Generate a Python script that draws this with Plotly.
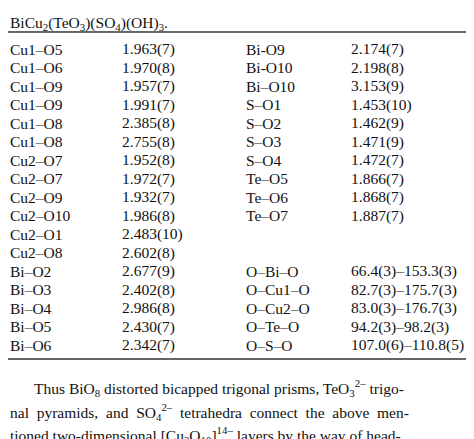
import plotly.graph_objects as go

title = "BiCu<sub>2</sub>(TeO<sub>3</sub>)(SO<sub>4</sub>)(OH)<sub>3</sub>."
bond_left = ["Cu1–O5", "Cu1–O6", "Cu1–O9", "Cu1–O9", "Cu1–O8", "Cu1–O8", "Cu2–O7", "Cu2–O7",
             "Cu2–O9", "Cu2–O10", "Cu2–O1", "Cu2–O8", "Bi–O2", "Bi–O3", "Bi–O4", "Bi–O5", "Bi–O6"]
dist_left = ["1.963(7)", "1.970(8)", "1.957(7)", "1.991(7)", "2.385(8)", "2.755(8)", "1.952(8)", "1.972(7)",
             "1.932(7)", "1.986(8)", "2.483(10)", "2.602(8)", "2.677(9)", "2.402(8)", "2.986(8)", "2.430(7)", "2.342(7)"]
bond_right = ["Bi-O9", "Bi-O10", "Bi–O10", "S–O1", "S–O2", "S–O3", "S–O4", "Te–O5", "Te–O6", "Te–O7",
              "", "", "O–Bi–O", "O–Cu1–O", "O–Cu2–O", "O–Te–O", "O–S–O"]
dist_right = ["2.174(7)", "2.198(8)", "3.153(9)", "1.453(10)", "1.462(9)", "1.471(9)", "1.472(7)", "1.866(7)",
              "1.868(7)", "1.887(7)", "", "", "66.4(3)–153.3(3)", "82.7(3)–175.7(3)", "83.0(3)–176.7(3)",
              "94.2(3)–98.2(3)", "107.0(6)–110.8(5)"]
paragraph = [
    "Thus BiO<sub>8</sub> distorted bicapped trigonal prisms, TeO<sub>3</sub><sup>2–</sup> trigo-",
    "nal  pyramids,  and  SO<sub>4</sub><sup>2–</sup>  tetrahedra  connect  the  above  men-",
    "tioned two-dimensional [Cu<sub>3</sub>O<sub>10</sub>]<sup>14–</sup> layers by the way of head-",
]

W, H = 474, 439
FONT = dict(family="Liberation Serif, Times New Roman, serif", size=15.5, color="#111")
fig = go.Figure()
ann = []

def txt(x, y, s):
    ann.append(dict(x=x, y=y, text=s, xref="x", yref="y", showarrow=False,
                    xanchor="left", yanchor="middle", font=FONT))

txt(0, 15, title)
row0, step = 41, 18.5
cols = [(0, bond_left), (112, dist_left), (236, bond_right), (341, dist_right)]
for x, vals in cols:
    for i, v in enumerate(vals):
        if v:
            txt(x, row0 + i * step, v)
for i, line in enumerate(paragraph):
    txt(24 if i == 0 else 0, 380 + i * 23.5, line)

shapes = [dict(type="line", x0=0, x1=W, y0=y, y1=y, xref="x", yref="y",
               line=dict(color="#333", width=1.5)) for y in (24, 351)]

fig.update_layout(
    width=W, height=H, margin=dict(l=0, r=0, t=0, b=0),
    paper_bgcolor="white", plot_bgcolor="white",
    xaxis=dict(range=[0, W], visible=False, fixedrange=True),
    yaxis=dict(range=[H, 0], visible=False, fixedrange=True),
    annotations=ann, shapes=shapes, showlegend=False,
)
fig.write_html("out.html")
